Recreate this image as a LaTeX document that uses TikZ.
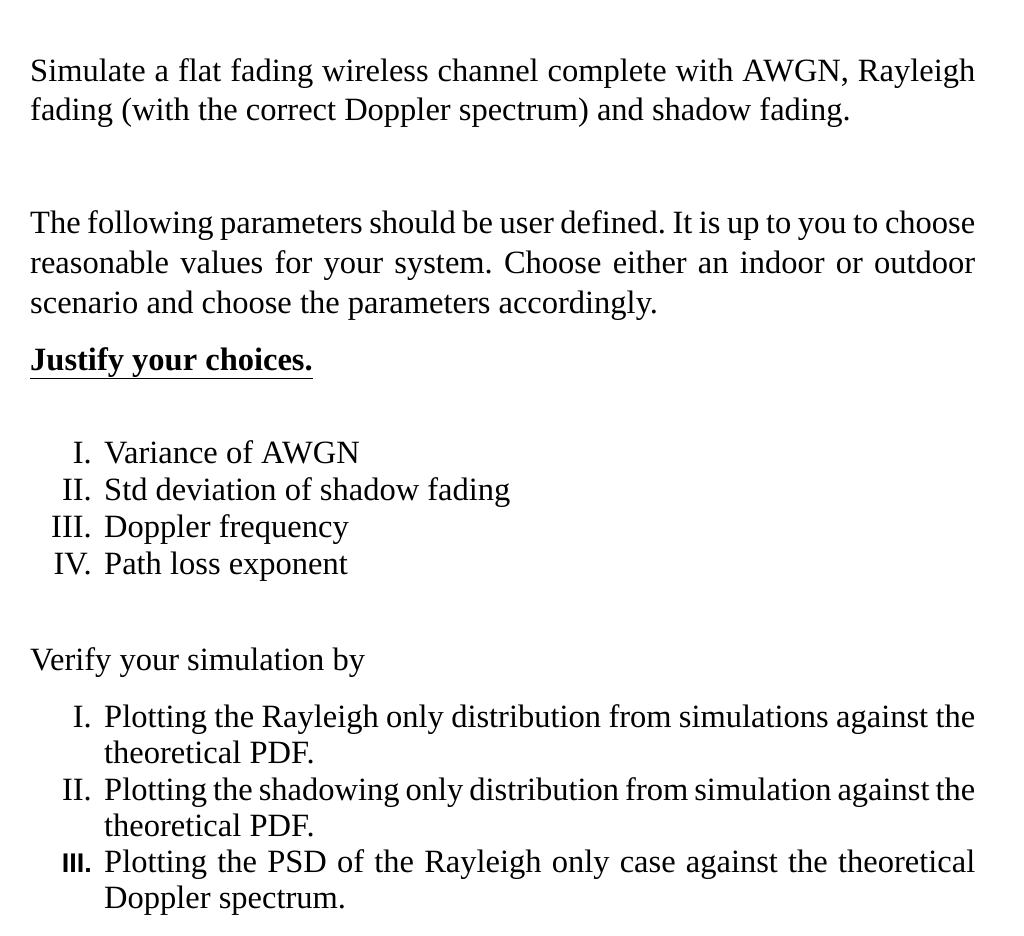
\documentclass[tikz,border=0pt]{standalone}
\usepackage{fontspec}
\setmainfont{Liberation Serif}
\newfontfamily\arialf{Liberation Sans}
\frenchspacing
\begin{document}
\begin{tikzpicture}[x=1pt,y=-1pt,
  txt/.style={anchor=base west,inner sep=0pt,font=\fontsize{32.5}{38}\selectfont},
  num/.style={anchor=base east,inner sep=0pt,font=\fontsize{32.5}{38}\selectfont}]
\useasboundingbox (0,0) rectangle (1024,935);
\fill[white] (0,0) rectangle (1024,935);
\node[txt] (l1) at (30,81) {\makebox[945pt][s]{Simulate a flat fading wireless channel complete with AWGN, Rayleigh}};
\node[txt] (l2) at (30,120) {fading (with the correct Doppler spectrum) and shadow fading.};
\node[txt] (p1) at (30,233) {\makebox[945pt][s]{The following parameters should be user defined. It is up to you to choose}};
\node[txt] (p2) at (30,273) {\makebox[945pt][s]{reasonable values for your system. Choose either an indoor or outdoor}};
\node[txt] (p3) at (30,313) {scenario and choose the parameters accordingly.};
\node[txt] (j) at (30,370) {\bfseries\underline{Justify your choices.}};
\node[num] (n1) at (92,463) {I.};
\node[txt] (i1) at (104,463) {Variance of AWGN};
\node[num] (n2) at (92,500) {II.};
\node[txt] (i2) at (104,500) {Std deviation of shadow fading};
\node[num] (n3) at (92,537) {III.};
\node[txt] (i3) at (104,537) {Doppler frequency};
\node[num] (n4) at (92,574) {IV.};
\node[txt] (i4) at (104,574) {Path loss exponent};
\node[txt] (v) at (30,670) {Verify your simulation by};
\node[num] (m1) at (92,727) {I.};
\node[txt] (a1) at (104,727) {\makebox[871pt][s]{Plotting the Rayleigh only distribution from simulations against the}};
\node[txt] (a2) at (104,763) {theoretical PDF.};
\node[num] (m2) at (92,800) {II.};
\node[txt] (b1) at (104,800) {\makebox[871pt][s]{Plotting the shadowing only distribution from simulation against the}};
\node[txt] (b2) at (104,836) {theoretical PDF.};
\node[num,font=\arialf\bfseries\fontsize{27}{32}\selectfont] (m3) at (92,872) {III.};
\node[txt] (c1) at (104,872) {\makebox[871pt][s]{Plotting the PSD of the Rayleigh only case against the theoretical}};
\node[txt] (c2) at (104,908) {Doppler spectrum.};
\end{tikzpicture}
\end{document}
